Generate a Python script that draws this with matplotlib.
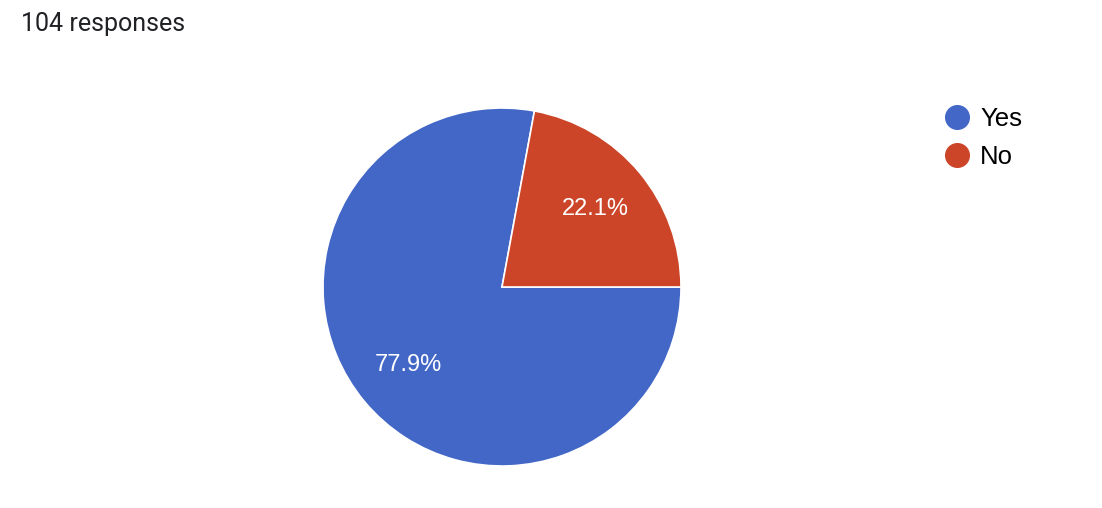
import matplotlib
matplotlib.use("Agg")
import matplotlib.pyplot as plt
from matplotlib.lines import Line2D

labels = ["Yes", "No"]
shares = [77.9, 22.1]
colors = ["#4267c6", "#cc4528"]
title = "104 responses"

fig = plt.figure(figsize=(11.02, 5.08), dpi=100)

# square axes in pixels: centre (502, 287), radius 179
ax = fig.add_axes([323 / 1102, 42 / 508, 358 / 1102, 358 / 508])
ax.pie(shares, colors=colors, startangle=shares[1] / 100 * 360,
       counterclock=True, autopct="%.1f%%", pctdistance=0.68,
       radius=1.0, wedgeprops=dict(edgecolor="white", linewidth=1.2),
       textprops=dict(color="white", fontsize=17, family="Liberation Sans"))
ax.set_xlim(-1, 1)
ax.set_ylim(-1, 1)
ax.set_aspect("equal")
ax.axis("off")

fig.text(21 / 1102, 1 - 24 / 508, title, fontsize=18, family="Roboto",
         color="#202124", va="center", ha="left")

handles = [Line2D([], [], marker="o", linestyle="none", markersize=17,
                  markerfacecolor=c, markeredgecolor=c) for c in colors]
fig.legend(handles, labels, loc="upper left", bbox_to_anchor=(944 / 1102, 1 - 107 / 508),
           frameon=False, prop=dict(family="Liberation Sans", size=18.5),
           handletextpad=0.4, labelspacing=0.53, borderpad=0, handlelength=1.0,
           borderaxespad=0)

fig.savefig("out.png", dpi=100)
